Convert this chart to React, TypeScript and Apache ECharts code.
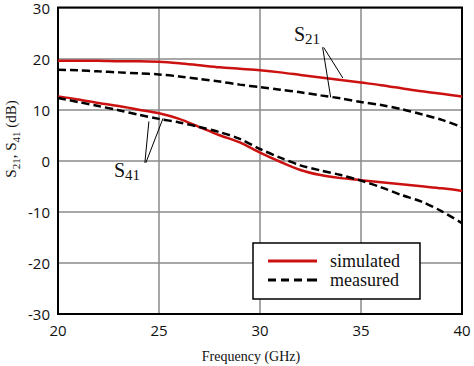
import React, { useEffect, useRef } from "react";
import * as echarts from "echarts";

const freq = [20, 21, 22, 23, 24, 25, 26, 27, 28, 29, 30, 31, 32, 33, 34, 35, 36, 37, 38, 39, 40];
const simS21 = [19.6, 19.6, 19.6, 19.5, 19.5, 19.4, 19.1, 18.7, 18.3, 18.0, 17.7, 17.3, 16.8, 16.3, 15.8, 15.3, 14.8, 14.2, 13.6, 13.1, 12.6];
const measS21 = [17.8, 17.7, 17.5, 17.3, 17.1, 16.9, 16.5, 16.0, 15.5, 14.9, 14.4, 13.9, 13.4, 12.8, 12.2, 11.5, 10.9, 10.1, 9.1, 8.0, 6.6];
const simS41 = [12.6, 12.0, 11.3, 10.7, 10.0, 9.3, 8.2, 6.6, 5.0, 3.6, 1.6, -0.2, -1.8, -2.8, -3.4, -3.8, -4.2, -4.6, -5.0, -5.4, -5.9];
const measS41 = [12.3, 11.5, 10.7, 9.9, 9.0, 8.2, 7.5, 6.6, 5.6, 4.3, 2.3, 0.6, -0.9, -1.9, -2.8, -3.9, -5.2, -6.7, -8.0, -9.9, -12.2];

const xTicks = { min: 20, max: 40, interval: 5 };
const yTicks = { min: -30, max: 30, interval: 10 };

// annotation arrows: [fromX, fromY, toX, toY] in data units
const s21Arrows = [
  [33.15, 22.2, 34.1, 16.2],
  [33.1, 22.2, 33.5, 12.4],
];
const s41Arrows = [
  [24.3, -0.4, 24.5, 7.7],
  [24.35, -0.4, 25.2, 8.3],
];

const RED = "#cc1111";

function pairs(v: number[]) {
  return freq.map((f, i) => [f, v[i]]);
}

function arrowLines(a: number[][]) {
  return a.map((r) => [{ coord: [r[0], r[1]] }, { coord: [r[2], r[3]] }]);
}

export default function App() {
  const ref = useRef<HTMLDivElement>(null);
  useEffect(() => {
    const chart = echarts.init(ref.current!, null, { renderer: "svg" });
    const serif = "Liberation Serif";
    const markLineBase = {
      silent: true,
      symbol: ["none", "arrow"],
      symbolSize: [0, 10],
      label: { show: false },
      lineStyle: { color: "#000", width: 1, type: "solid" },
      emphasis: { disabled: true },
    };
    chart.setOption({
      animation: false,
      backgroundColor: "#fff",
      grid: {
        left: 58,
        right: 12,
        top: 7,
        bottom: 52,
        show: true,
        borderColor: "#000",
        borderWidth: 2,
        z: 3,
      },
      xAxis: {
        type: "value",
        ...xTicks,
        axisLine: { show: false },
        axisTick: { show: false },
        splitLine: { lineStyle: { color: "#8a8a8a", width: 1.5 } },
        axisLabel: { color: "#111", fontFamily: "Open Sans", fontSize: 15, margin: 8 },
      },
      yAxis: {
        type: "value",
        ...yTicks,
        axisLine: { show: false },
        axisTick: { show: false },
        splitLine: { lineStyle: { color: "#8a8a8a", width: 1.5 } },
        axisLabel: { color: "#111", fontFamily: "Open Sans", fontSize: 15, margin: 8 },
      },
      legend: {
        orient: "vertical",
        left: 253,
        top: 243,
        backgroundColor: "#fff",
        borderColor: "#000",
        borderWidth: 1.5,
        borderRadius: 0,
        padding: [9, 20, 10, 15],
        itemWidth: 49,
        itemHeight: 3,
        itemGap: 1,
        data: [
          { name: "simulated", icon: "rect", itemStyle: { color: RED } },
          {
            name: "measured",
            icon: "path://M0,0h8v3h-8z M13,0h8v3h-8z M26,0h8v3h-8z M39,0h10v3h-10z",
            itemStyle: { color: "#000" },
          },
        ],
        textStyle: { fontFamily: serif, fontSize: 18, color: "#111", lineHeight: 18, padding: [0, 0, 0, 8] },
      },
      series: [
        {
          name: "simulated",
          type: "line",
          data: pairs(simS21),
          smooth: 0.3,
          symbol: "none",
          lineStyle: { color: RED, width: 2.5 },
          itemStyle: { color: RED },
          markLine: { ...markLineBase, data: arrowLines(s21Arrows) },
          z: 4,
        },
        {
          name: "measured",
          type: "line",
          data: pairs(measS21),
          smooth: 0.3,
          symbol: "none",
          lineStyle: { color: "#000", width: 2.5, type: [8, 4] },
          itemStyle: { color: "#000" },
          z: 4,
        },
        {
          name: "simulated",
          type: "line",
          data: pairs(simS41),
          smooth: 0.3,
          symbol: "none",
          lineStyle: { color: RED, width: 2.5 },
          itemStyle: { color: RED },
          markLine: { ...markLineBase, data: arrowLines(s41Arrows) },
          z: 4,
        },
        {
          name: "measured",
          type: "line",
          data: pairs(measS41),
          smooth: 0.3,
          symbol: "none",
          lineStyle: { color: "#000", width: 2.5, type: [8, 4] },
          itemStyle: { color: "#000" },
          z: 4,
        },
      ],
      graphic: [
        {
          type: "text",
          rotation: Math.PI / 2,
          x: 11,
          y: 139,
          style: {
            text: "{m|S}{s|21}{m|, S}{s|41}{m| (dB)}",
            textAlign: "center",
            textVerticalAlign: "middle",
            fill: "#111",
            rich: {
              m: { fontFamily: serif, fontSize: 15, lineHeight: 20, verticalAlign: "middle", fill: "#111" },
              s: { fontFamily: serif, fontSize: 11, lineHeight: 20, verticalAlign: "bottom", fill: "#111" },
            },
          },
        },
        {
          type: "text",
          x: 251,
          y: 356,
          style: {
            text: "Frequency (GHz)",
            fontFamily: serif,
            fontSize: 14,
            fill: "#111",
            textAlign: "center",
            textVerticalAlign: "middle",
          },
        },
        {
          type: "text",
          x: 294,
          y: 34,
          z: 10,
          style: {
            text: "{m|S}{s|21}",
            textAlign: "left",
            textVerticalAlign: "middle",
            rich: {
              m: { fontFamily: serif, fontSize: 20, lineHeight: 24, verticalAlign: "middle", fill: "#111" },
              s: { fontFamily: serif, fontSize: 15, lineHeight: 24, verticalAlign: "bottom", fill: "#111" },
            },
          },
        },
        {
          type: "text",
          x: 114,
          y: 170,
          z: 10,
          style: {
            text: "{m|S}{s|41}",
            textAlign: "left",
            textVerticalAlign: "middle",
            rich: {
              m: { fontFamily: serif, fontSize: 20, lineHeight: 24, verticalAlign: "middle", fill: "#111" },
              s: { fontFamily: serif, fontSize: 15, lineHeight: 24, verticalAlign: "bottom", fill: "#111" },
            },
          },
        },
      ],
    });
    return () => chart.dispose();
  }, []);
  return (
    <div
      ref={ref}
      style={{ position: "absolute", left: 0, top: 0, width: 474, height: 366 }}
    />
  );
}
